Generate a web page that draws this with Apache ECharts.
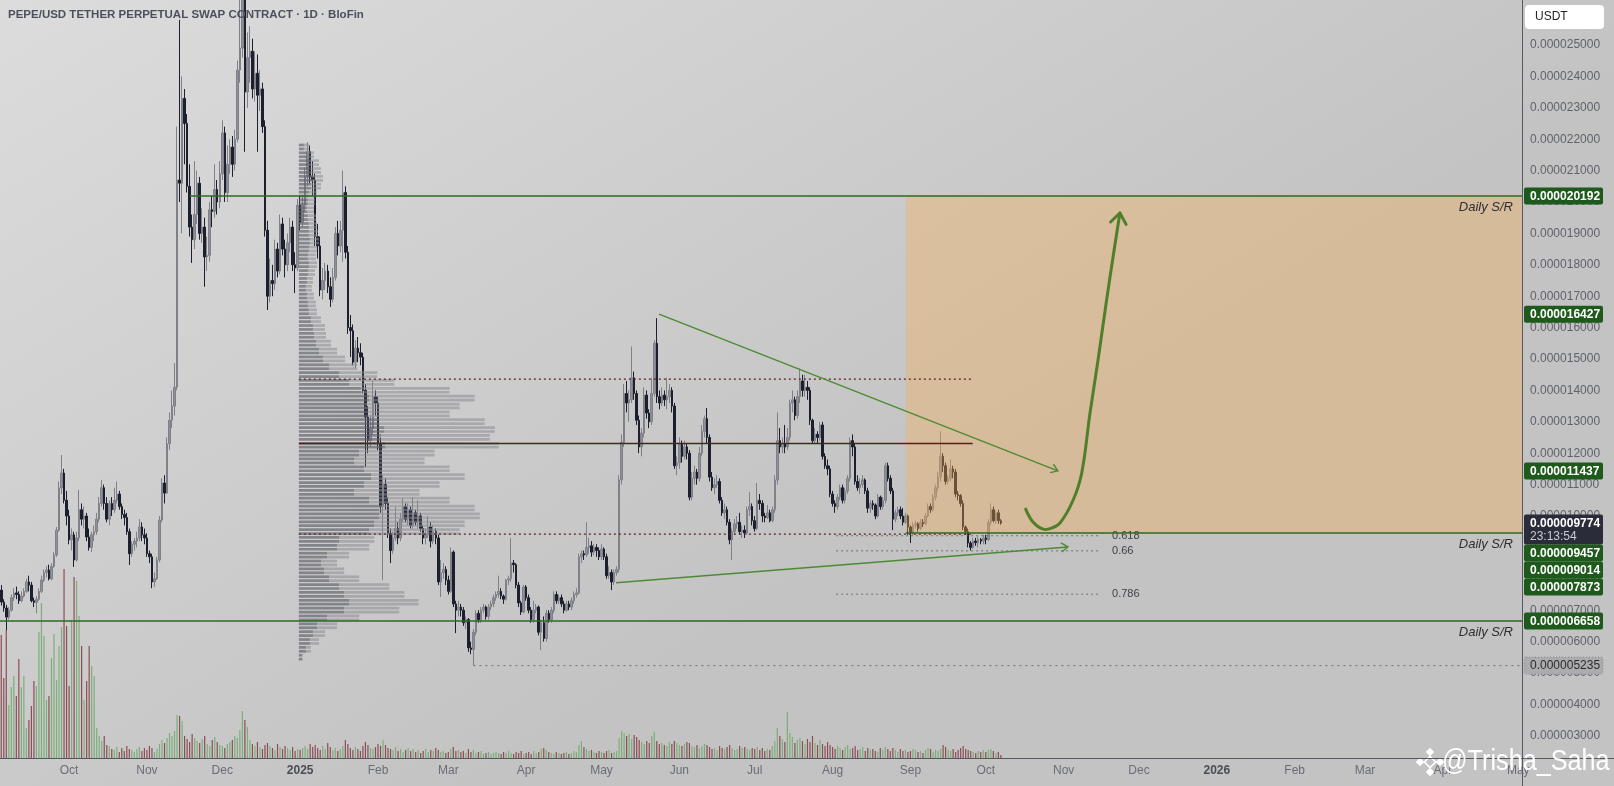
<!DOCTYPE html>
<html><head><meta charset="utf-8">
<script src="https://cdn.jsdelivr.net/npm/echarts@6/dist/echarts.min.js"></script>
<style>html,body{margin:0;padding:0;background:#d2d2d2;}#c{width:1614px;height:786px;}</style>
</head><body><div id="c"></div>
<script>
// ---------- time axis ----------
const START_DATE = '2024-09-04';
const N_DAYS = 606;            // visible daily slots (Sep 4 2024 .. May 2 2026)
const MONTHS = ['Jan','Feb','Mar','Apr','May','Jun','Jul','Aug','Sep','Oct','Nov','Dec'];

// ---------- prices, in millionths of USDT: [open, close, low, high] ----------
const sep24 = [[7.64,7.26,7.15,7.8],[7.26,7.07,6.95,7.35],[7.07,6.78,6.37,7.17],[6.78,7.0,6.7,7.1],[7.0,7.4,6.95,7.5],[7.4,7.55,7.3,7.7],[7.55,7.5,7.35,7.75],[7.5,7.3,7.2,7.6],[7.3,7.45,7.25,7.6],[7.45,7.6,7.4,7.7],[7.6,7.9,7.55,8.0],[7.9,7.8,7.6,8.1],[7.8,7.3,7.25,7.9],[7.3,7.25,7.1,7.4],[7.25,7.35,6.9,7.45],[7.35,7.6,7.3,7.7],[7.6,7.96,7.55,8.1],[7.96,8.2,7.9,8.3],[8.2,8.28,8.05,8.4],[8.28,8.0,7.95,8.45],[8.0,8.4,7.95,8.5],[8.4,8.76,8.35,8.85],[8.76,9.55,8.7,9.65],[9.55,10.9,9.5,11.1],[10.9,11.37,10.7,11.94],[11.37,10.5,10.4,11.5],[10.5,10.0,9.7,10.8]];
const oct24 = [[10.0,9.24,9.1,10.2],[9.24,9.4,8.9,9.6],[9.4,8.6,8.38,9.5],[8.6,9.3,8.55,9.5],[9.3,10.2,9.2,10.83],[10.2,9.9,9.7,10.4],[9.9,10.0,9.6,10.3],[10.0,9.33,9.2,10.1],[9.33,9.0,8.9,9.6],[9.0,9.4,8.85,9.5],[9.4,9.5,9.2,9.7],[9.5,9.9,9.4,10.1],[9.9,10.4,9.8,10.6],[10.4,10.9,10.3,11.15],[10.9,10.4,10.2,11.0],[10.4,9.9,9.8,10.6],[9.9,10.4,9.7,10.5],[10.4,10.2,10.0,10.6],[10.2,10.5,10.1,10.9],[10.5,10.7,10.4,11.1],[10.7,10.3,10.2,10.8],[10.3,10.05,9.9,10.4],[10.05,9.95,9.7,10.2],[9.95,9.5,9.4,10.1],[9.5,8.8,8.44,9.6],[8.8,9.1,8.7,9.2],[9.1,9.2,8.9,9.3],[9.2,9.3,9.0,9.5],[9.3,9.65,9.2,9.9],[9.65,9.4,9.2,9.8],[9.4,9.3,9.1,9.6]];
const nov24 = [[9.3,8.8,8.7,9.45],[8.8,8.7,8.5,8.9],[8.7,7.9,7.7,8.8],[7.9,8.0,7.74,8.2],[8.0,8.6,7.96,8.7],[8.6,9.87,8.53,10.0],[9.87,11.05,9.8,11.2],[11.05,10.73,10.4,11.3],[10.73,12.3,10.7,12.5],[12.3,13.05,12.1,13.3],[13.05,13.5,12.8,14.0],[13.5,14.1,13.2,14.87],[14.1,20.7,14.0,22.4],[20.7,20.6,20.0,25.8],[20.6,23.3,19.0,24.0],[23.3,22.5,21.2,23.6],[22.5,20.5,20.3,22.8],[20.5,19.2,18.9,21.2],[19.2,18.8,18.06,19.6],[18.8,19.6,18.5,21.3],[19.6,20.6,19.3,21.0],[20.6,19.0,18.8,20.8],[19.0,19.2,18.7,19.8],[19.2,18.25,17.3,19.5],[18.25,18.3,17.8,18.9],[18.3,19.75,18.1,20.0],[19.75,19.7,19.2,20.2],[19.7,20.4,19.5,21.2],[20.4,20.0,19.6,20.7],[20.0,20.9,19.8,21.3]];
const dec24 = [[20.9,22.2,20.7,22.6],[22.2,20.3,20.0,22.4],[20.3,21.2,20.0,21.8],[21.2,21.75,20.9,22.0],[21.75,21.2,20.8,22.1],[21.2,22.0,21.0,22.3],[22.0,24.2,21.9,24.5],[24.2,24.9,23.8,26.5],[24.9,26.6,24.6,28.2],[26.6,23.5,21.6,27.4],[23.5,24.6,23.0,25.4],[24.6,24.8,23.8,25.6],[24.8,23.6,23.3,25.2],[23.6,24.1,23.2,24.8],[24.1,23.4,21.6,24.7],[23.4,23.6,22.9,24.2],[23.6,22.4,22.2,23.8],[22.4,19.1,18.9,22.6],[19.1,17.0,16.56,19.4],[17.0,17.5,16.8,18.2],[17.5,17.4,17.0,18.0],[17.4,18.5,17.2,18.8],[18.5,17.8,17.6,18.7],[17.8,19.3,17.7,19.6],[19.3,18.5,18.3,19.5],[18.5,18.0,17.6,18.8],[18.0,18.7,17.8,19.0],[18.7,19.2,18.4,19.5],[19.2,18.0,17.8,19.4],[18.0,17.9,17.1,18.4],[17.9,19.9,17.8,20.1]];
const jan25 = [[19.9,19.35,19.1,20.2],[19.35,19.9,19.2,20.2],[19.9,20.8,19.7,21.1],[20.8,21.6,20.5,21.9],[21.6,20.8,20.6,21.8],[20.8,20.7,20.2,21.3],[20.7,18.9,18.6,20.9],[18.9,18.6,18.2,19.3],[18.6,17.2,17.0,18.9],[17.2,17.5,16.9,17.9],[17.5,17.8,17.2,18.06],[17.8,17.3,17.1,18.0],[17.3,16.9,16.66,17.6],[16.9,17.6,16.8,17.9],[17.6,19.0,17.5,19.2],[19.0,18.6,18.3,19.4],[18.6,19.1,18.4,19.4],[19.1,20.3,18.1,21.0],[20.3,18.4,18.2,20.5],[18.4,16.0,15.8,18.6],[16.0,15.9,15.06,16.4],[15.9,14.9,14.8,16.1],[14.9,15.35,14.7,15.6],[15.35,15.2,14.9,15.7],[15.2,15.06,14.8,15.5],[15.06,14.0,13.9,15.2],[14.0,13.15,11.56,14.2],[13.15,12.4,12.0,13.5],[12.4,12.8,12.2,13.2],[12.8,13.8,12.6,14.3],[13.8,13.6,13.2,14.0]];
const feb25 = [[13.6,12.3,12.1,13.8],[12.3,10.3,10.1,12.5],[10.3,11.0,7.96,11.3],[11.0,10.4,10.2,11.2],[10.4,9.45,9.3,10.6],[9.45,8.9,8.5,9.6],[8.9,9.3,8.8,9.5],[9.3,9.6,9.2,10.3],[9.6,9.3,9.1,9.8],[9.3,9.9,9.2,10.1],[9.9,10.3,9.8,10.57],[10.3,9.9,9.8,10.4],[9.9,10.2,9.7,10.4],[10.2,9.7,9.6,10.3],[9.7,10.1,9.6,10.6],[10.1,9.8,9.7,10.2],[9.8,10.0,9.6,10.5],[10.0,9.6,9.5,10.1],[9.6,9.3,9.1,9.7],[9.3,9.4,9.1,9.6],[9.4,9.65,9.3,10.0],[9.65,9.2,9.0,9.8],[9.2,9.5,9.1,9.7],[9.5,9.3,9.1,9.6],[9.3,7.9,7.8,9.4],[7.9,8.2,7.42,8.6],[8.2,8.3,8.0,8.5],[8.3,7.96,7.8,8.4]];
const mar25 = [[7.96,7.6,7.5,8.1],[7.6,8.85,7.55,9.0],[8.85,7.2,7.1,8.9],[7.2,7.0,6.27,7.3],[7.0,7.1,6.8,7.3],[7.1,7.0,6.8,7.2],[7.0,6.6,6.5,7.1],[6.6,6.7,6.4,6.8],[6.7,5.8,5.67,6.75],[5.8,5.75,5.6,6.0],[5.75,6.3,5.235,6.4],[6.3,6.9,6.2,7.0],[6.9,6.7,6.6,7.0],[6.7,7.0,6.6,7.1],[7.0,7.1,6.9,7.2],[7.1,6.8,6.7,7.15],[6.8,7.1,6.7,7.2],[7.1,7.2,7.0,7.3],[7.2,7.4,7.1,7.5],[7.4,7.5,7.3,7.6],[7.5,7.6,7.4,8.1],[7.6,7.45,7.35,7.7],[7.45,7.35,7.2,7.5],[7.35,7.96,7.3,8.0],[7.96,8.0,7.8,8.1],[8.0,8.5,7.9,9.3],[8.5,8.45,8.2,8.6],[8.45,7.8,7.7,8.5],[7.8,7.23,7.1,7.9],[7.23,6.94,6.85,7.3],[6.94,7.74,6.9,7.8]];
const apr25 = [[7.74,7.4,7.3,7.8],[7.4,7.0,6.9,7.5],[7.0,6.7,6.6,7.1],[6.7,7.0,6.6,7.3],[7.0,7.1,6.9,7.2],[7.1,6.3,6.2,7.15],[6.3,6.6,5.73,6.7],[6.6,6.1,6.0,6.8],[6.1,6.9,6.0,7.0],[6.9,6.7,6.6,7.0],[6.7,7.0,6.6,7.1],[7.0,7.5,6.9,7.6],[7.5,7.3,7.2,7.6],[7.3,7.4,7.2,7.5],[7.4,7.2,7.1,7.5],[7.2,7.0,6.9,7.3],[7.0,7.2,6.95,7.3],[7.2,7.1,7.0,7.3],[7.1,7.3,7.0,7.4],[7.3,7.5,7.2,7.6],[7.5,7.55,7.4,7.7],[7.55,8.7,7.5,8.8],[8.7,8.8,8.5,8.9],[8.8,8.76,8.6,8.9],[8.76,9.0,8.7,9.8],[9.0,9.05,8.8,9.3],[9.05,8.85,8.7,9.2],[8.85,9.0,8.75,9.1],[9.0,8.9,8.7,9.1],[8.9,8.7,8.6,9.0]];
const may25 = [[8.7,8.95,8.6,9.1],[8.95,8.7,8.6,9.0],[8.7,8.1,8.0,8.8],[8.1,8.2,8.0,8.4],[8.2,7.9,7.64,8.3],[7.9,8.2,7.8,8.3],[8.2,8.3,8.1,8.4],[8.3,11.15,8.2,11.3],[11.15,12.35,11.0,12.6],[12.35,13.9,12.2,14.2],[13.9,13.6,13.3,14.3],[13.6,13.7,13.0,14.0],[13.7,14.4,13.6,15.4],[14.4,13.9,13.7,14.6],[13.9,13.05,12.9,14.0],[13.05,12.2,12.0,13.2],[12.2,12.64,11.9,12.8],[12.64,13.85,12.5,14.1],[13.85,13.28,13.1,14.0],[13.28,13.0,12.8,13.4],[13.0,13.9,12.9,14.4],[13.9,15.5,13.8,15.6],[15.5,13.8,13.6,16.3],[13.8,13.6,13.4,14.0],[13.6,13.85,13.5,14.1],[13.85,13.7,13.5,14.0],[13.7,13.8,13.4,14.4],[13.8,14.0,13.6,14.2],[14.0,13.5,13.3,14.1],[13.5,11.6,11.5,13.6],[11.6,11.7,11.3,11.9]];
const jun25 = [[11.7,12.3,11.5,12.5],[12.3,11.9,11.7,12.4],[11.9,12.2,11.8,12.4],[12.2,12.0,11.8,12.3],[12.0,10.6,10.5,12.1],[10.6,11.2,10.5,11.4],[11.2,11.4,11.0,11.6],[11.4,11.2,11.0,11.5],[11.2,12.0,11.1,12.2],[12.0,12.7,11.9,12.9],[12.7,13.1,12.5,13.2],[13.1,12.5,12.3,13.44],[12.5,11.24,11.1,12.6],[11.24,10.9,10.8,11.4],[10.9,11.0,10.7,11.2],[11.0,11.1,10.9,11.3],[11.1,10.5,10.4,11.2],[10.5,10.1,10.0,10.6],[10.1,10.2,9.9,10.4],[10.2,9.8,9.7,10.3],[9.8,9.24,9.1,9.9],[9.24,9.5,8.6,9.6],[9.5,9.75,9.4,9.9],[9.75,9.8,9.6,10.0],[9.8,9.5,9.4,10.1],[9.5,9.55,9.3,9.7],[9.55,9.46,9.3,9.7],[9.46,10.2,9.4,10.3],[10.2,10.3,10.0,10.76],[10.3,9.85,9.7,10.4]];
const jul25 = [[9.85,9.6,9.5,10.0],[9.6,10.5,9.55,11.05],[10.5,10.4,10.2,10.7],[10.4,10.0,9.8,10.5],[10.0,9.95,9.8,10.1],[9.95,10.1,9.9,10.35],[10.1,9.85,9.8,10.2],[9.85,10.2,9.8,10.3],[10.2,11.15,10.1,11.3],[11.15,12.4,11.0,13.3],[12.4,12.2,12.0,12.8],[12.2,12.3,12.0,12.5],[12.3,12.2,12.0,12.9],[12.2,12.5,12.1,12.8],[12.5,13.6,12.4,13.7],[13.6,13.7,13.3,14.0],[13.7,13.2,13.05,13.8],[13.2,13.8,13.1,14.0],[13.8,14.3,13.6,14.7],[14.3,14.0,13.8,14.5],[14.0,14.1,13.8,14.5],[14.1,14.0,13.7,14.3],[14.0,13.05,12.9,14.1],[13.05,12.4,12.3,13.1],[12.4,12.6,12.3,12.8],[12.6,12.5,12.3,12.7],[12.5,12.9,12.4,13.0],[12.9,11.9,11.8,13.0],[11.9,11.6,11.5,12.0],[11.6,11.5,11.3,11.8],[11.5,10.7,10.6,11.6]];
const aug25 = [[10.7,10.4,10.3,10.8],[10.4,10.3,10.1,10.5],[10.3,10.6,10.2,10.7],[10.6,10.9,10.5,11.0],[10.9,10.5,10.4,11.0],[10.5,10.8,10.4,10.9],[10.8,11.2,10.7,11.3],[11.2,12.4,11.1,12.5],[12.4,12.2,11.9,12.6],[12.2,11.1,11.0,12.3],[11.1,10.9,10.8,11.3],[10.9,11.0,10.7,11.2],[11.0,11.15,10.9,11.3],[11.15,10.8,10.7,11.2],[10.8,10.25,10.1,10.9],[10.25,10.4,10.1,10.5],[10.4,10.35,10.2,10.5],[10.35,10.0,9.9,10.4],[10.0,10.6,9.95,10.7],[10.6,10.3,10.2,10.65],[10.3,10.5,10.2,10.6],[10.5,11.6,10.4,11.7],[11.6,11.2,11.1,11.7],[11.2,10.8,10.7,11.3],[10.8,9.9,9.55,10.9],[9.9,10.1,9.8,10.2],[10.1,10.2,10.0,10.3],[10.2,10.0,9.9,10.3],[10.0,9.8,9.7,10.25],[9.8,10.0,9.75,10.1],[10.0,9.65,9.4,10.05]];
const sep25 = [[9.65,9.46,9.14,9.7],[9.46,9.7,9.4,9.8],[9.7,9.75,9.6,9.85],[9.75,9.6,9.5,9.8],[9.6,9.8,9.55,9.9],[9.8,9.75,9.65,9.9],[9.75,10.0,9.7,10.1],[10.0,10.3,9.95,10.4],[10.3,10.2,10.1,10.4],[10.2,10.6,10.15,10.7],[10.6,10.9,10.5,11.0],[10.9,11.24,10.8,11.4],[11.24,11.9,11.1,12.7],[11.9,11.6,11.4,12.0],[11.6,11.1,11.0,11.7],[11.1,11.2,11.0,11.3],[11.2,11.5,11.1,11.8],[11.5,11.4,11.2,11.6],[11.4,10.7,10.6,11.5],[10.7,10.65,10.5,10.8],[10.65,10.4,10.3,10.7],[10.4,9.65,9.55,10.5],[9.65,9.5,9.4,9.7],[9.5,9.14,9.0,9.6],[9.14,9.0,8.9,9.2],[9.0,9.2,8.95,9.3],[9.2,9.15,9.05,9.3],[9.15,9.25,9.0,9.35],[9.25,9.2,9.1,9.3],[9.2,9.3,9.1,9.4]];
const oct25 = [[9.3,9.25,9.1,9.4],[9.25,9.8,9.2,9.9],[9.8,10.2,9.7,10.4],[10.2,9.85,9.8,10.3],[9.85,10.1,9.75,10.15],[10.1,9.85,9.75,10.2],[9.85,9.774,9.72,9.9]];

// ---------- volume (relative units) ----------
const volSep24 = [123,80,128,53,71,82,62,99,71,82,30,38,52,77,72,126,155,122,58,62,100,124,78,112,131,189,132];
const volOct24 = [72,138,181,177,142,112,58,77,112,92,82,30,22,17,22,13,12,9,8,11,6,10,7,12,9,8,6,9,11,7,10];
const volNov24 = [8,12,10,6,9,14,18,15,20,25,22,27,43,42,37,22,19,16,24,20,17,15,19,22,14,12,18,21,16,13];
const volDec24 = [12,10,14,16,18,22,20,28,47,38,31,18,14,12,16,11,9,13,15,12,10,8,14,11,9,12,10,8,11,7,9];
const volJan25 = [8,10,12,9,14,11,13,10,8,12,9,15,11,8,10,7,9,12,18,14,10,8,11,9,7,12,16,13,10,9,11];
const volFeb25 = [14,12,18,13,10,9,8,11,7,9,6,8,10,7,9,6,8,5,7,9,6,8,7,10,8,6,7,5];
const volMar25 = [6,9,11,7,8,6,7,5,9,6,8,5,6,7,4,5,6,4,5,6,5,4,6,5,7,5,4,6,5,7,4];
const volApr25 = [5,6,4,7,5,6,9,10,8,6,5,4,6,5,4,5,6,4,5,7,6,13,17,11,9,7,8,6,5,7];
const volMay25 = [6,5,7,8,5,6,7,20,27,25,22,24,19,23,21,18,16,14,17,15,22,26,17,14,15,13,12,16,14,17,15];
const volJun25 = [13,12,14,16,15,12,11,13,10,12,14,13,11,9,10,8,12,10,9,11,13,10,8,9,12,10,11,9,8,10];
const volJul25 = [9,11,8,10,7,9,8,12,17,30,22,19,16,46,25,21,15,18,20,17,14,19,16,22,15,13,18,14,12,16,13];
const volAug25 = [11,9,12,10,8,11,13,9,10,12,8,9,11,7,10,8,9,7,6,10,8,11,9,7,10,8,6,9,7,8,6];
const volSep25 = [7,9,8,6,7,5,8,10,9,6,8,7,9,13,11,8,7,9,6,8,10,12,9,8,7,6,5,7,6,8];
const volOct25 = [6,8,9,7,5,6,3];

// ---------- volume profile (fixed range from Jan 1 2025) ----------
const vpStartIndex = 118.5;
const vpPrice = [21.75,21.5,21.25,21.0,20.75,20.5,20.25,20.0,19.75,19.5,19.25,19.0,18.75,18.5,18.25,18.0,17.75,17.5,17.25,17.0,16.75,16.5,16.25,16.0,15.75,15.5,15.25,15.0,14.75,14.5,14.25,14.0,13.75,13.5,13.25,13.0,12.75,12.5,12.25,12.0,11.75,11.5,11.25,11.0,10.75,10.5,10.25,10.0,9.75,9.5,9.25,9.0,8.75,8.5,8.25,8.0,7.75,7.5,7.25,7.0,6.75,6.5,6.25,6.0,5.75,5.5];
const vpTotal = [10,15,20,22,24,22,18,16,15,17,18,19,20,18,17,18,16,14,13,15,17,18,22,26,27,32,38,46,58,78,95,150,175,160,150,185,195,190,199,135,125,150,165,140,120,150,175,180,165,160,75,70,50,38,45,60,90,105,119,100,60,38,26,20,12,4];
const vpDark  = [5,8,10,12,13,12,10,9,8,9,10,10,11,10,9,10,9,8,7,8,9,10,12,14,15,17,20,24,30,40,50,62,70,65,68,80,85,82,86,60,55,65,72,65,55,70,80,80,75,70,40,38,28,22,25,30,40,45,50,45,28,18,14,11,7,3];
const vaLevels = [14.36, 12.31, 9.42];     // VAH, POC, VAL
const vaEndIndex = 386.8;

// ---------- drawings ----------
const srLevels = [20.192, 9.457, 6.658];
const srFrom = [75.1, 360.2, -0.5];
const zoneFrom = 360.2, zoneTop = 20.192, zoneBottom = 9.457;
const fibLevels = [9.37, 8.89, 7.51];
const fibLabels = ['0.618', '0.66', '0.786'];
const fibFrom = 332.4, fibTo = 437.9;
const lowMark = 5.235, lowMarkFrom = 188;
const upperTrend = [[261.9, 16.427], [420.7, 11.437]];
const lowerTrend = [[244.8, 7.873], [424.7, 9.014]];
const projIdx = [407.9,410.8,414.9,418.4,421.6,426.8,430.2,433.5,436.7,440.1,443.1,445.4];
const projVal = [10.22,9.81,9.58,9.62,9.78,10.51,11.37,13.28,14.97,16.88,18.47,19.65];
const greenBadges = [20.192, 16.427, 11.437, 9.457, 9.014, 7.873, 6.658];
const lastPrice = 9.774, countdown = '23:13:54';
const yLabelValues = [3,4,5,6,7,8,9,10,11,12,13,14,15,16,17,18,19,20,21,22,23,24,25];

// ---------- assemble ----------
const ohlc = [].concat(sep24,oct24,nov24,dec24,jan25,feb25,mar25,apr25,may25,jun25,jul25,aug25,sep25,oct25);
const vols = [].concat(volSep24,volOct24,volNov24,volDec24,volJan25,volFeb25,volMar25,volApr25,volMay25,volJun25,volJul25,volAug25,volSep25,volOct25);
const categories = [];
(function(){ const d0 = Date.parse(START_DATE + 'T00:00:00Z'); for (let k = 0; k < N_DAYS; k++) categories.push(new Date(d0 + k*86400000).toISOString().slice(0,10)); })();

const fmt = v => (v * 1e-6).toFixed(9);
const UP = '#8f9098', UP_B = '#7f8088', DN = '#1c1f2d';
const GREEN = '#2c6a22', TREND = '#4d8a34', MAROON = '#5e1c1c';

const volData = vols.map((v, k) => ({ value: v, itemStyle: { color: ohlc[k][1] >= ohlc[k][0] ? '#7cae7a' : '#8c4d55' } }));

function arrowHead(tip, prev, len, ang) {
  const a = Math.atan2(tip[1] - prev[1], tip[0] - prev[0]);
  return [[tip[0] - len*Math.cos(a - ang), tip[1] - len*Math.sin(a - ang)], tip, [tip[0] - len*Math.cos(a + ang), tip[1] - len*Math.sin(a + ang)]];
}

function renderAnno(params, api) {
  const cs = params.coordSys;
  const right = cs.x + cs.width;
  const w = api.size([1, 0])[0];
  const x0 = api.coord([0, 10])[0];
  const X = i => x0 + i * w;
  const Y = v => api.coord([0, v])[1];
  const kids = [];
  // target zone
  kids.push({ type: 'rect', shape: { x: X(zoneFrom), y: Y(zoneTop), width: right - X(zoneFrom), height: Y(zoneBottom) - Y(zoneTop) }, style: { fill: 'rgba(246,176,80,0.36)' } });
  // volume profile
  const maxV = Math.max.apply(null, vpTotal);
  const pxPerStep = Math.abs(Y(0) - Y(0.25));
  const maxW = 200;
  const vx = X(vpStartIndex);
  vpPrice.forEach((p, k) => {
    const yc = Y(p);
    const tw = vpTotal[k] / maxV * maxW, dw = vpDark[k] / maxV * maxW;
    for (let s = 0; s < 2; s++) {
      const yy = yc - pxPerStep/2 + s * pxPerStep/2 + 0.5;
      const hh = pxPerStep/2 - 1.2;
      kids.push({ type: 'rect', shape: { x: vx, y: yy, width: dw, height: hh }, style: { fill: 'rgba(98,99,106,0.68)' } });
      kids.push({ type: 'rect', shape: { x: vx + dw, y: yy, width: Math.max(0, tw - dw), height: hh }, style: { fill: 'rgba(140,140,147,0.55)' } });
    }
  });
  // value area lines
  vaLevels.forEach((v, k) => {
    kids.push({ type: 'line', shape: { x1: vx, y1: Y(v), x2: X(vaEndIndex), y2: Y(v) }, style: { stroke: MAROON, lineWidth: k === 1 ? 1.4 : 1.3, lineDash: k === 1 ? null : [2, 3] } });
  });
  // fib levels
  fibLevels.forEach((v, k) => {
    kids.push({ type: 'line', shape: { x1: X(fibFrom), y1: Y(v), x2: X(fibTo), y2: Y(v) }, style: { stroke: '#6f7075', lineWidth: 1, lineDash: [2, 3] } });
    kids.push({ type: 'text', x: X(fibTo) + 11, y: Y(v), style: { text: fibLabels[k], fill: '#3f4048', font: '11px "Liberation Sans"', align: 'left', verticalAlign: 'middle' } });
  });
  // low mark
  kids.push({ type: 'line', shape: { x1: X(lowMarkFrom), y1: Y(lowMark), x2: right, y2: Y(lowMark) }, style: { stroke: '#6f7075', lineWidth: 1, lineDash: [2, 4] } });
  // support / resistance
  srLevels.forEach((v, k) => {
    kids.push({ type: 'line', shape: { x1: X(srFrom[k]), y1: Y(v), x2: right, y2: Y(v) }, style: { stroke: GREEN, lineWidth: 1.5 } });
    kids.push({ type: 'text', x: right - 9, y: Y(v) + 11, style: { text: 'Daily S/R', fill: '#2e2e33', font: 'italic 13px "Liberation Sans"', align: 'right', verticalAlign: 'middle' } });
  });
  // trend lines
  [upperTrend, lowerTrend].forEach(t => {
    const a = [X(t[0][0]), Y(t[0][1])], b = [X(t[1][0]), Y(t[1][1])];
    kids.push({ type: 'line', shape: { x1: a[0], y1: a[1], x2: b[0], y2: b[1] }, style: { stroke: TREND, lineWidth: 1.4 } });
    kids.push({ type: 'polyline', shape: { points: arrowHead(b, a, 8, 0.6) }, style: { stroke: TREND, lineWidth: 1.4, fill: null } });
  });
  // projection curve
  const pts = projIdx.map((i, k) => [X(i), Y(projVal[k])]);
  kids.push({ type: 'polyline', shape: { points: pts, smooth: 0.4 }, style: { stroke: '#4f7f2a', lineWidth: 3, fill: null, lineCap: 'round' } });
  kids.push({ type: 'polyline', shape: { points: arrowHead(pts[pts.length-1], pts[pts.length-3], 13, 0.65) }, style: { stroke: '#4f7f2a', lineWidth: 3, fill: null, lineCap: 'round', lineJoin: 'round' } });
  // price badges (stacked so they don't overlap)
  const bx = right + 2, bw = 79, bh = 17;
  const items = greenBadges.map(v => ({ v, kind: 'g' }));
  items.push({ v: lastPrice, kind: 'last' });
  items.push({ v: lowMark, kind: 'low' });
  items.sort((a, b) => b.v - a.v);
  let prevBottom = -1e9;
  items.forEach(it => {
    const h = it.kind === 'last' ? 30 : bh;
    const top = Math.max(Y(it.v) - bh/2, prevBottom);
    prevBottom = top + h;
    let fill = '#1f5a1d', txt = '#ffffff', stroke = null;
    if (it.kind === 'last') fill = '#2a2d39';
    if (it.kind === 'low') { fill = '#acacae'; txt = '#2b2b30'; stroke = '#8a8a8e'; }
    kids.push({ type: 'rect', shape: { x: bx, y: top, width: bw, height: h, r: 2 }, style: { fill, stroke, lineWidth: 1, lineDash: stroke ? [1, 2] : null } });
    kids.push({ type: 'text', x: bx + 6, y: top + bh/2 + 0.5, style: { text: fmt(it.v), fill: txt, font: (it.kind === 'low' ? '' : 'bold ') + '12px "Liberation Sans"', align: 'left', verticalAlign: 'middle' } });
    if (it.kind === 'last') kids.push({ type: 'text', x: bx + 6, y: top + 22.5, style: { text: countdown, fill: '#c9cad2', font: '12px "Liberation Sans"', align: 'left', verticalAlign: 'middle' } });
  });
  return { type: 'group', children: kids };
}

const chart = echarts.init(document.getElementById('c'), null, { renderer: 'canvas' });
chart.setOption({
  animation: false,
  backgroundColor: { type: 'linear', x: 0, y: 0, x2: 0.3, y2: 1, colorStops: [{ offset: 0, color: '#dcdcdc' }, { offset: 1, color: '#c3c3c3' }] },
  grid: [
    { left: 0, right: 92, top: 0, height: 758, outerBoundsMode: 'none' },
    { left: 0, right: 92, top: 558, height: 200, outerBoundsMode: 'none' }
  ],
  xAxis: [
    { gridIndex: 0, type: 'category', data: categories, boundaryGap: true, axisLine: { show: false }, axisTick: { show: false }, axisLabel: { show: false }, splitLine: { show: false } },
    { gridIndex: 1, type: 'category', data: categories, boundaryGap: true, axisLine: { show: false }, axisTick: { show: false }, splitLine: { show: false },
      axisLabel: { interval: (idx, val) => val.slice(8) === '01', formatter: val => { const m = +val.slice(5, 7); return m === 1 ? '{y|' + val.slice(0, 4) + '}' : MONTHS[m - 1]; },
        color: '#6a6d76', fontSize: 12, fontFamily: 'Liberation Sans', margin: 7, hideOverlap: false,
        rich: { y: { color: '#4a4d56', fontWeight: 'bold', fontSize: 12, fontFamily: 'Liberation Sans' } } } }
  ],
  yAxis: [
    { gridIndex: 0, type: 'value', position: 'right', min: 2.293, max: 26.433, splitLine: { show: false }, axisLine: { show: false }, axisTick: { show: false },
      axisLabel: { customValues: yLabelValues, formatter: v => fmt(v), color: '#5f626b', fontSize: 12, fontFamily: 'Liberation Sans', margin: 8, showMinLabel: true, showMaxLabel: true } },
    { gridIndex: 1, type: 'value', min: 0, max: 200, show: false }
  ],
  series: [
    { type: 'bar', xAxisIndex: 1, yAxisIndex: 1, data: volData, barWidth: 1.2, z: 1, silent: true },
    { type: 'candlestick', xAxisIndex: 0, yAxisIndex: 0, data: ohlc, barWidth: 2, z: 2, silent: true,
      itemStyle: { color: UP, color0: DN, borderColor: UP_B, borderColor0: DN, borderWidth: 1 } },
    { type: 'custom', xAxisIndex: 0, yAxisIndex: 0, data: [[0, 10]], renderItem: renderAnno, clip: false, z: 5, silent: true }
  ],
  graphic: [
    { type: 'line', shape: { x1: 1522.5, y1: 0, x2: 1522.5, y2: 786 }, style: { stroke: '#56585f', lineWidth: 1 }, z: 10 },
    { type: 'line', shape: { x1: 0, y1: 758.5, x2: 1614, y2: 758.5 }, style: { stroke: '#56585f', lineWidth: 1.2 }, z: 10 },
    { type: 'text', left: 8, top: 9, style: { text: 'PEPE/USD TETHER PERPETUAL SWAP CONTRACT · 1D · BloFin', fill: '#4c505b', font: 'bold 11.5px "Liberation Sans"' }, z: 10 },
    { type: 'rect', shape: { x: 1525, y: 5, width: 79, height: 24, r: 4 }, style: { fill: '#ffffff' }, z: 10 },
    { type: 'text', x: 1535, y: 17, style: { text: 'USDT', fill: '#23252b', font: '12px "Liberation Sans"', verticalAlign: 'middle' }, z: 11 },
    { type: 'group', x: 1430, y: 762, z: 12, children: [
      { type: 'rect', shape: { x: -4, y: -4, width: 8, height: 8 }, rotation: Math.PI/4, style: { fill: 'none', stroke: '#ffffff', lineWidth: 1.6 } },
      { type: 'rect', shape: { x: -3, y: -3, width: 6, height: 6 }, x: 0, y: -10, rotation: Math.PI/4, style: { fill: '#ffffff' } },
      { type: 'rect', shape: { x: -3, y: -3, width: 6, height: 6 }, x: 0, y: 10, rotation: Math.PI/4, style: { fill: '#ffffff' } },
      { type: 'rect', shape: { x: -3, y: -3, width: 6, height: 6 }, x: -10, y: 0, rotation: Math.PI/4, style: { fill: '#ffffff' } },
      { type: 'rect', shape: { x: -3, y: -3, width: 6, height: 6 }, x: 10, y: 0, rotation: Math.PI/4, style: { fill: '#ffffff' } }
    ] },
    { type: 'text', x: 1442, y: 762, scaleX: 0.84, z: 12, style: { text: '@Trisha_Saha', fill: '#ffffff', font: '30px "Liberation Sans"', verticalAlign: 'middle', shadowColor: 'rgba(0,0,0,0.25)', shadowBlur: 2 } }
  ]
});
</script>
</body></html>
